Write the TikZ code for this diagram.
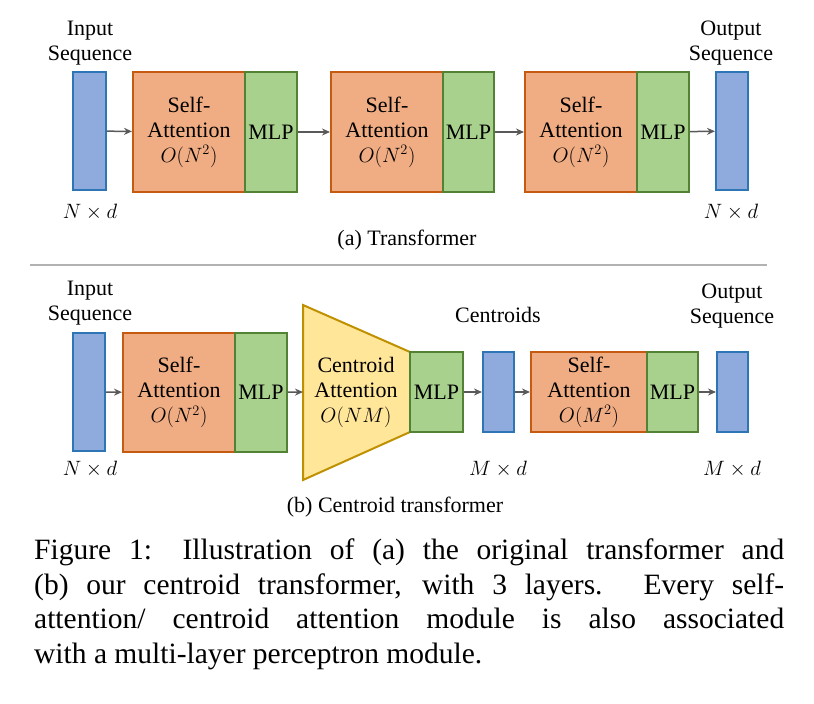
\documentclass[tikz,border=0pt]{standalone}
\usepackage{fontspec}
\setmainfont{Liberation Serif}
\usetikzlibrary{arrows.meta}
\definecolor{ofill}{HTML}{F0AD84}\definecolor{oline}{HTML}{C55A11}
\definecolor{gfill}{HTML}{A9D18E}\definecolor{gline}{HTML}{548235}
\definecolor{bfill}{HTML}{8FAADC}\definecolor{bline}{HTML}{2E75B6}
\definecolor{yfill}{HTML}{FFE699}\definecolor{yline}{HTML}{BF9000}
\begin{document}
\begin{tikzpicture}[x=1pt,y=-1pt,
 lbl/.style={font=\fontsize{22}{25}\selectfont,align=center,inner sep=0},
 sa/.style={draw=oline,fill=ofill,line width=2pt},
 mlp/.style={draw=gline,fill=gfill,line width=2pt},
 seq/.style={draw=bline,fill=bfill,line width=2pt},
 arr/.style={draw=black!65,line width=1.5pt,-{Stealth[length=8pt,width=7pt]}}]
\useasboundingbox (0,0) rectangle (814,704);
% top row
\node[seq,minimum width=33,minimum height=118,inner sep=0] (i1) at (89.5,131) {};
\node[sa,minimum width=112,minimum height=120,inner sep=0,lbl] (s1) at (189,132) {Self-\\Attention\\$O(N^2)$};
\node[mlp,minimum width=52,minimum height=120,inner sep=0,lbl] (m1) at (271,132) {MLP};
\node[sa,minimum width=112,minimum height=120,inner sep=0,lbl] (s2) at (387,132) {Self-\\Attention\\$O(N^2)$};
\node[mlp,minimum width=51,minimum height=120,inner sep=0,lbl] (m2) at (468.5,132) {MLP};
\node[sa,minimum width=112,minimum height=120,inner sep=0,lbl] (s3) at (581,132) {Self-\\Attention\\$O(N^2)$};
\node[mlp,minimum width=52,minimum height=120,inner sep=0,lbl] (m3) at (663,132) {MLP};
\node[seq,minimum width=32,minimum height=118,inner sep=0] (o1) at (732,131) {};
\draw[arr] (i1) -- (s1); \draw[arr] (m1) -- (s2); \draw[arr] (m2) -- (s3); \draw[arr] (m3) -- (o1);
\node[lbl] (t1) at (90,43) {Input\\Sequence};
\node[lbl] (t2) at (731,43) {Output\\Sequence};
\node[lbl] (t3) at (90,212) {$N\times d$};
\node[lbl] (t4) at (731,212) {$N\times d$};
\node[lbl] (t5) at (407,240) {(a) Transformer};
\draw[black!30,line width=1.5pt] (30,265) -- (767,265);
% bottom row
\node[seq,minimum width=32,minimum height=118,inner sep=0] (i2) at (89,392) {};
\node[sa,minimum width=112,minimum height=119,inner sep=0,lbl] (s4) at (179,392.5) {Self-\\Attention\\$O(N^2)$};
\node[mlp,minimum width=52,minimum height=119,inner sep=0,lbl] (m4) at (261,392.5) {MLP};
\draw[draw=yline,fill=yfill,line width=2pt] (303,305) -- (410,352) -- (410,432) -- (303,480) -- cycle;
\node[lbl] (c1) at (356,392) {Centroid\\Attention\\$O(NM)$};
\coordinate (cl) at (303,392);
\node[mlp,minimum width=53,minimum height=80,inner sep=0,lbl] (m5) at (436.5,392) {MLP};
\node[seq,minimum width=31,minimum height=80,inner sep=0] (ce) at (498.5,392) {};
\node[sa,minimum width=116,minimum height=80,inner sep=0,lbl] (s5) at (589,392) {Self-\\Attention\\$O(M^2)$};
\node[mlp,minimum width=51,minimum height=80,inner sep=0,lbl] (m6) at (672.5,392) {MLP};
\node[seq,minimum width=31,minimum height=80,inner sep=0] (o2) at (732.5,392) {};
\draw[arr] (i2) -- (s4); \draw[arr] (m4) -- (cl); \draw[arr] (m5) -- (ce); \draw[arr] (ce) -- (s5); \draw[arr] (m6) -- (o2);
\node[lbl] (t6) at (90,303) {Input\\Sequence};
\node[lbl] (t7) at (732,306) {Output\\Sequence};
\node[lbl] (t8) at (498,315) {Centroids};
\node[lbl] (t9) at (90,469) {$N\times d$};
\node[lbl] (t10) at (498,469) {$M\times d$};
\node[lbl] (t11) at (732,469) {$M\times d$};
\node[lbl] (t12) at (395,507) {(b) Centroid transformer};
% caption
\node[anchor=north west,inner sep=0,text width=750pt,align=justify,font=\fontsize{29.5}{34.5}\selectfont] (cap) at (34,539) {Figure 1: Illustration of (a) the original transformer and\linebreak (b) our centroid transformer, with 3 layers. Every self-\linebreak attention/ centroid attention module is also associated\linebreak with a multi-layer perceptron module.};
\end{tikzpicture}
\end{document}
